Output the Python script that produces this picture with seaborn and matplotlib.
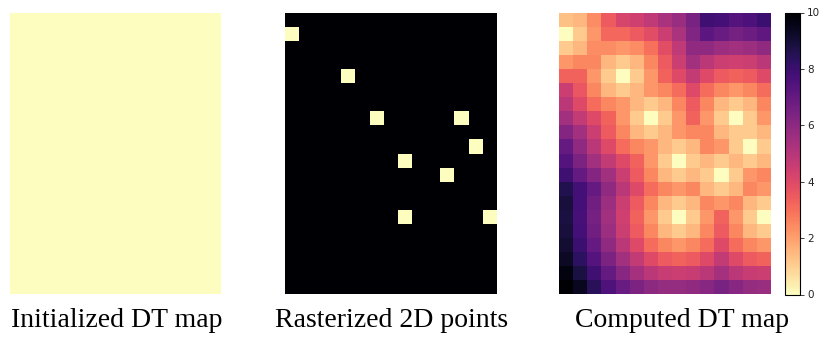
import numpy as np
import pandas as pd
import matplotlib
matplotlib.use("Agg")
import matplotlib.pyplot as plt
import seaborn as sns

# ---------------- data ----------------
n_rows = 20
n_cols = 15
init_value = 0.0

# rasterized 2D points (row, col)
point_rows = [1, 4, 7, 7, 9, 10, 11, 14, 14]
point_cols = [0, 4, 6, 12, 13, 8, 11, 8, 14]

# computed DT map (rows top -> bottom)
dt_values = [
    [1.3, 1.5, 2.4, 3.5, 4.2, 4.4, 4.8, 5.3, 5.7, 6.5, 7.9, 7.8, 7.4, 7.6, 8.0],
    [0.0, 1.1, 2.2, 3.2, 3.2, 3.5, 3.9, 4.5, 5.3, 6.3, 7.2, 6.9, 6.6, 6.8, 7.1],
    [1.1, 1.5, 2.4, 2.4, 2.2, 2.4, 3.0, 3.9, 4.8, 5.9, 5.9, 5.6, 5.5, 5.6, 5.9],
    [2.2, 2.5, 2.5, 1.5, 1.1, 1.5, 2.5, 3.5, 4.5, 5.5, 4.9, 4.5, 4.4, 4.5, 4.9],
    [3.3, 3.3, 2.2, 1.1, 0.0, 1.1, 2.2, 3.3, 4.0, 4.7, 4.0, 3.5, 3.3, 3.5, 4.0],
    [4.5, 3.6, 2.5, 1.5, 1.1, 1.5, 2.2, 2.5, 3.1, 4.0, 3.1, 2.5, 2.2, 2.5, 3.1],
    [4.9, 4.0, 3.1, 2.5, 2.2, 1.5, 1.1, 1.5, 2.5, 3.5, 2.5, 1.5, 1.1, 1.5, 2.5],
    [5.5, 4.7, 4.0, 3.3, 2.2, 1.1, 0.0, 1.1, 2.2, 3.3, 2.2, 1.1, 0.0, 1.1, 2.2],
    [6.2, 5.5, 4.5, 3.5, 2.5, 1.5, 1.1, 1.5, 2.2, 2.5, 2.5, 1.5, 1.1, 1.1, 1.5],
    [7.0, 5.9, 4.9, 4.0, 3.1, 2.5, 2.2, 1.5, 1.1, 1.5, 2.5, 2.2, 1.1, 0.0, 1.1],
    [7.4, 6.4, 5.5, 4.7, 4.0, 3.3, 2.2, 1.1, 0.0, 1.1, 1.5, 1.1, 1.5, 1.1, 1.5],
    [7.9, 7.0, 6.2, 5.5, 4.5, 3.5, 2.5, 1.5, 1.1, 1.5, 1.1, 0.0, 1.1, 2.2, 2.5],
    [8.6, 7.8, 7.0, 5.9, 4.9, 4.0, 3.1, 2.5, 2.2, 2.5, 1.5, 1.1, 1.5, 2.5, 2.2],
    [8.9, 7.8, 6.7, 5.6, 4.5, 3.5, 2.5, 1.5, 1.1, 1.5, 2.5, 2.2, 2.5, 1.5, 1.1],
    [8.8, 7.7, 6.6, 5.5, 4.4, 3.3, 2.2, 1.1, 0.0, 1.1, 2.2, 3.3, 2.2, 1.1, 0.0],
    [8.9, 7.8, 6.7, 5.6, 4.5, 3.5, 2.5, 1.5, 1.1, 1.5, 2.5, 3.5, 2.5, 1.5, 1.1],
    [9.1, 8.0, 7.0, 5.9, 4.9, 4.0, 3.1, 2.5, 2.2, 2.5, 3.1, 4.0, 3.1, 2.5, 2.2],
    [9.3, 8.3, 7.4, 6.4, 5.5, 4.7, 4.0, 3.5, 3.3, 3.5, 4.0, 4.7, 4.0, 3.5, 3.3],
    [9.7, 8.8, 7.9, 7.0, 6.1, 5.4, 4.9, 4.6, 4.5, 4.6, 4.9, 5.4, 4.9, 4.6, 4.5],
    [10.0, 9.4, 8.4, 7.5, 6.9, 6.4, 6.0, 5.8, 5.8, 5.9, 6.1, 6.5, 6.1, 5.8, 5.7],
]

panel_titles = ["Initialized DT map", "Rasterized 2D points", "Computed DT map"]
cbar_ticks = [0, 2, 4, 6, 8, 10]
vmin, vmax = 0, 10

# ---------------- build tables ----------------
init_map = pd.DataFrame(np.full((n_rows, n_cols), init_value))
raster = np.zeros((n_rows, n_cols))
for r, c in zip(point_rows, point_cols):
    raster[r, c] = 1.0
raster = pd.DataFrame(raster)
dt_map = pd.DataFrame(np.array(dt_values))

# ---------------- figure ----------------
W, H = 828, 339
fig = plt.figure(figsize=(W / 100, H / 100), dpi=100)

def px_axes(x0, y0, x1, y1):
    return fig.add_axes([x0 / W, 1 - y1 / H, (x1 - x0) / W, (y1 - y0) / H])

ax1 = px_axes(10, 13, 221, 294)
ax2 = px_axes(284.5, 13, 497, 294)
ax3 = px_axes(559, 13, 771, 294)
cax = px_axes(785, 12.5, 800, 294.5)

sns.heatmap(init_map, ax=ax1, cmap="magma_r", vmin=vmin, vmax=vmax, cbar=False,
            xticklabels=False, yticklabels=False)
sns.heatmap(raster, ax=ax2, cmap="magma", vmin=0, vmax=1, cbar=False,
            xticklabels=False, yticklabels=False)
sns.heatmap(dt_map, ax=ax3, cmap="magma_r", vmin=vmin, vmax=vmax, cbar=True,
            cbar_ax=cax, cbar_kws={"ticks": cbar_ticks},
            xticklabels=False, yticklabels=False)

for ax in (ax1, ax2, ax3):
    ax.set_xlabel("")
    ax.set_ylabel("")

cb = ax3.collections[0].colorbar
cb.outline.set_linewidth(0.8)
cb.outline.set_edgecolor("black")
cax.tick_params(labelsize=7.5, length=3, width=0.6, colors="#222222", pad=2)
for lab in cax.get_yticklabels():
    lab.set_family("DejaVu Sans")

# titles below panels
title_x = [116.5, 392, 682]
for tx, t in zip(title_x, panel_titles):
    fig.text(tx / W, 1 - 327 / H, t, ha="center", va="baseline",
             fontsize=20, family="Liberation Serif", color="black")

fig.savefig("out.png", dpi=100)
